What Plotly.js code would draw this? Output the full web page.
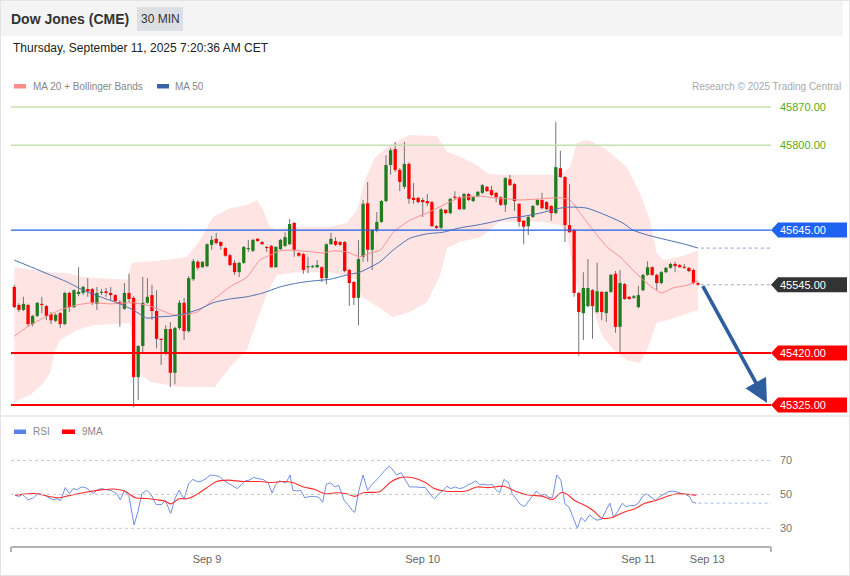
<!DOCTYPE html>
<html><head><meta charset="utf-8">
<script src="https://cdn.plot.ly/plotly-3.0.1.min.js"></script>
<style>
html,body{margin:0;padding:0;background:#fff;}
#chart{width:850px;height:576px;position:absolute;left:0;top:0;}
#frame{position:absolute;left:0;top:0;width:848px;height:574px;border:1px solid #e4e4e4;pointer-events:none;}
</style>
</head><body><div id="chart"></div><div id="frame"></div>
<script>
// ---------- DATA ----------
const openP=[45541,45508,45499,45508,45473,45488,45510,45506,45491,45479,
45493,45473,45530,45504,45528,45530,45537,45537,45510,45530,
45533,45530,45526,45513,45501,45530,45521,45376,45433,45512,
45526,45497,45446,45420,45464,45384,45466,45512,45460,45555,
45587,45577,45579,45618,45629,45623,45612,45599,45585,45568,
45585,45610,45607,45629,45623,45614,45616,45577,45610,45616,
45619,45658,45603,45601,45577,45577,45577,45577,45557,45619,
45625,45623,45623,45572,45550,45521,45596,45694,45609,45645,
45660,45698,45764,45793,45755,45724,45766,45704,45704,45700,
45698,45696,45652,45649,45682,45676,45705,45705,45683,45711,
45698,45707,45713,45724,45718,45713,45705,45691,45738,45729,
45693,45662,45652,45669,45691,45700,45696,45689,45676,45758,
45742,45654,45645,45530,45493,45506,45535,45495,45532,45493,
45532,45565,45468,45546,45523,45521,45504,45535,45563,45577,
45563,45548,45568,45576,45583,45581,45577,45576,45572,45548];
const highP=[45545,45511,45523,45510,45490,45513,45523,45508,45495,45493,
45495,45532,45532,45537,45577,45543,45557,45539,45541,45537,
45539,45541,45528,45517,45548,45565,45524,45435,45559,45557,
45545,45535,45447,45471,45477,45468,45517,45521,45561,45592,
45590,45588,45621,45634,45640,45625,45614,45601,45590,45587,
45616,45627,45629,45630,45625,45616,45618,45616,45629,45641,
45665,45660,45605,45603,45596,45581,45590,45579,45621,45640,
45632,45625,45625,45574,45552,45627,45700,45733,45647,45678,
45700,45782,45795,45806,45758,45806,45769,45731,45705,45704,
45711,45698,45654,45685,45683,45704,45716,45707,45713,45713,
45707,45716,45729,45726,45726,45715,45707,45742,45746,45731,
45694,45663,45671,45691,45702,45713,45698,45691,45843,45790,
45744,45729,45647,45532,45568,45592,45537,45585,45533,45533,
45565,45570,45572,45548,45524,45526,45543,45565,45588,45579,
45565,45570,45577,45585,45587,45583,45583,45577,45574,45550];
const lowP=[45502,45495,45497,45468,45469,45486,45493,45480,45473,45477,
45466,45471,45495,45502,45524,45526,45523,45508,45499,45526,
45523,45517,45513,45468,45499,45513,45321,45334,45422,45510,
45480,45429,45398,45416,45358,45363,45462,45444,45457,45552,
45572,45576,45577,45609,45619,45609,45596,45579,45563,45559,
45583,45605,45605,45623,45618,45605,45576,45576,45609,45614,
45618,45596,45596,45565,45566,45576,45576,45550,45546,45618,
45616,45616,45568,45506,45508,45471,45587,45587,45572,45641,
45658,45696,45746,45751,45716,45720,45693,45693,45694,45669,
45689,45651,45647,45647,45674,45674,45700,45682,45682,45698,
45696,45705,45711,45715,45707,45696,45689,45678,45726,45680,
45651,45619,45636,45667,45689,45683,45682,45662,45674,45740,
45623,45640,45523,45415,45444,45504,45446,45493,45480,45477,
45530,45457,45422,45517,45517,45519,45502,45533,45561,45561,
45535,45546,45566,45574,45568,45576,45574,45568,45546,45543];
const closeP=[45504,45499,45510,45473,45488,45512,45508,45488,45480,45490,
45473,45530,45504,45535,45532,45541,45533,45512,45530,45532,
45530,45526,45515,45510,45530,45519,45376,45433,45512,45523,
45497,45446,45444,45464,45384,45466,45512,45460,45557,45588,
45576,45587,45619,45627,45621,45616,45598,45581,45568,45585,
45614,45612,45627,45625,45619,45612,45577,45614,45627,45632,
45656,45609,45598,45572,45579,45579,45581,45557,45619,45629,
45618,45618,45570,45548,45521,45592,45693,45609,45645,45660,
45698,45764,45791,45755,45733,45766,45702,45700,45696,45696,
45694,45652,45649,45683,45676,45702,45704,45683,45711,45700,
45705,45715,45727,45716,45709,45705,45691,45740,45727,45698,
45660,45651,45669,45689,45700,45685,45683,45676,45760,45742,
45654,45641,45530,45495,45539,45539,45506,45533,45495,45532,
45563,45468,45548,45519,45519,45524,45526,45563,45577,45563,
45548,45568,45576,45583,45579,45577,45576,45570,45548,45545];

const bbUpX=[0,4.1,7.8,11.5,15.0,18.7,24.6,25.6,29.6,33.3,37.6,40.5,43.3,47.0,50.7,52.9,54.2,55.7,57.2,60.1,65.1,68.8,72.5,74.7,76.4,78.6,81.9,86.2,92.1,94.3,97.1,100.8,103.0,105.8,113.0,118.9,121.1,122.6,124.8,126.1,129.2,133.5,136.3,138.5,140.0,141.4,145.1,149.0];
const bbUp=[45577,45572,45568,45566,45559,45557,45554,45585,45588,45590,45596,45627,45669,45685,45691,45700,45682,45651,45647,45651,45651,45651,45658,45682,45736,45777,45801,45819,45817,45788,45779,45764,45749,45746,45746,45746,45760,45804,45810,45806,45791,45760,45713,45663,45603,45590,45596,45608];
const bbLoX=[0,1.7,3.4,6.3,7.8,8.7,10.0,13.7,17.1,25.2,26.3,29.6,36.1,43.7,47.0,50.7,52.9,55.1,57.2,61.6,68.8,74.7,75.8,79.7,82.5,86.2,89.9,92.8,94.3,97.1,101.5,105.8,114.6,118.9,120.4,121.7,123.3,126.1,128.3,131.3,133.5,136.3,137.9,140.0,142.2,149.0];
const bbLo=[45329,45338,45343,45365,45384,45420,45444,45462,45471,45475,45389,45367,45358,45358,45394,45426,45480,45530,45563,45568,45568,45554,45523,45502,45486,45495,45513,45563,45612,45623,45632,45660,45660,45654,45640,45572,45523,45499,45449,45420,45407,45402,45426,45475,45480,45499];

const ma20X=[0,3.4,6.3,10.0,13.7,17.1,20.9,25.9,29.6,32.4,34.6,36.8,39.8,43.3,47.0,50.7,53.5,55.7,57.9,60.1,65.1,67.3,69.4,72.5,75.3,77.5,79.7,82.5,86.2,89.9,92.1,94.3,97.1,101.5,104.3,107.4,110.2,114.6,118.9,121.1,123.3,126.1,129.2,132.0,134.8,137.0,139.2,141.1,143.5,146.6,149.0];
const ma20=[45451,45471,45484,45499,45508,45512,45510,45512,45506,45497,45490,45490,45495,45517,45541,45559,45590,45599,45607,45608,45605,45603,45607,45605,45596,45603,45608,45640,45663,45676,45685,45694,45704,45707,45704,45702,45700,45702,45704,45700,45676,45645,45614,45596,45572,45554,45539,45530,45539,45544,45552];

const ma50X=[0,4.1,7.8,11.5,15.0,18.7,22.4,25.9,28.9,31.1,34.6,37.6,40.5,43.3,47.0,50.7,54.2,57.9,61.6,65.1,68.8,72.5,75.3,79.7,82.5,86.2,89.9,93.4,97.1,100.8,104.3,108.0,110.2,114.6,118.9,121.1,124.8,129.8,132.6,134.8,137.9,142.2,146.6,149.0];
const ma50=[45590,45576,45563,45550,45535,45523,45512,45499,45484,45486,45488,45493,45501,45512,45519,45523,45530,45541,45548,45552,45555,45563,45568,45587,45608,45630,45638,45641,45649,45654,45660,45667,45669,45676,45685,45687,45685,45669,45658,45645,45636,45627,45618,45612];

const rsiX=[0.2,1.0,1.8,3.0,4.2,5.1,6.3,7.5,8.5,9.3,10.1,11.1,12.0,12.8,13.7,14.6,15.5,16.4,17.2,18.1,19.1,19.9,21.1,22.3,23.1,24.0,25.0,26.1,27.0,27.8,28.8,29.7,30.9,32.1,32.9,34.1,35.0,35.9,37.0,38.0,38.9,40.0,40.8,41.8,42.7,43.9,44.7,45.5,46.5,47.7,48.6,49.4,50.3,51.2,52.2,53.0,54.2,55.3,56.2,56.9,57.7,58.5,59.2,60.1,60.7,61.6,62.4,63.3,64.4,65.4,66.3,67.2,68.0,68.9,69.9,70.7,71.9,72.7,73.7,74.2,75.1,76.0,77.0,77.8,78.6,79.6,80.5,81.7,82.5,83.3,84.3,85.2,86.1,87.2,88.4,89.6,90.8,91.6,92.5,93.5,94.3,95.1,96.1,97.0,97.9,98.7,99.6,100.6,101.4,102.2,103.2,104.1,104.9,105.8,106.7,107.7,108.5,109.3,110.3,111.2,112.0,112.9,113.8,114.7,115.6,116.4,117.3,118.2,119.1,120.0,120.9,121.8,122.7,123.5,124.4,125.4,126.2,127.0,128.0,128.9,129.8,130.6,131.5,132.5,133.3,134.1,135.1,136.0,136.8,137.7,138.6,139.8,140.7,141.6,142.4,143.3,144.5,145.5,146.3,147.1,147.8,148.6];
const rsiV=[49.4,48.8,50,46.8,48,50.4,50,48,46.8,47.4,46.4,54,50.4,53.4,52.8,54.4,54,52.4,50.4,52.8,53.4,52.8,52.4,50.4,46.8,52.4,48.8,32,40.4,50.4,52.4,50.4,44,44,46.4,38.8,47.4,52.4,47.4,56.4,58.8,57.4,57.8,59.4,61.4,61,60.4,58.4,56.8,54.8,53.4,55.4,58,58.4,60,59.4,58.8,56.8,50.8,55.4,58,57.4,56.8,61.4,52.4,52,52.4,48,48.8,48.8,48.4,45.4,56,56.8,54.4,55.4,46.4,44,40.4,39.4,52.4,61.4,52.4,55.4,57.4,60.4,63.4,66.8,64.4,61.4,62.8,58.4,54.4,54.4,54,54,49.4,47.4,50.4,52.4,54.8,53.4,54.4,53.4,54,55.4,56.4,58,55.6,56,55.4,56,52.8,51,58.8,56.8,50.4,47.2,44,42.8,45.4,49,52,49.4,50,48.4,48,61.4,58.4,44.4,42.4,36.4,30,36.4,34,38,36,34.8,35.4,40.4,44.8,36.4,40,44.8,42.8,43.4,43.4,44.8,48.4,50.4,48.8,46.4,48.8,50.4,51.4,52,51.4,50.4,50,48.8,45.4,44.8];
const rsiMaX=[0.2,2.8,5.1,7.5,9.9,12.2,15.8,19.3,21.7,24.0,26.4,28.8,31.1,32.9,34.1,35.9,37.6,39.4,41.8,44.1,46.5,50.0,53.6,55.9,58.3,60.7,63.0,65.4,67.7,70.1,72.5,74.2,76.0,79.6,81.9,83.7,86.6,89.6,91.4,93.7,98.5,100.8,103.2,106.7,109.1,112.0,115.0,117.3,119.1,120.3,122.1,124.4,126.2,128.0,130.3,132.7,135.1,137.4,139.8,142.2,144.5,146.9,148.6];
const rsiMa=[49.4,50.4,50.4,48.8,48,49.4,51.4,52.8,53.2,52,48,47.6,46.8,46,44.4,47.4,47.4,49.4,53.6,57.6,58.4,57.6,57.6,57,57.6,57,54.4,53,50.4,51,50.4,48.8,51,51.6,57,59.6,60,57,53.6,52,52,54.4,54,54.8,52,49.6,49,47,51,50.4,46.4,43.4,40.4,36,36.4,39.4,41.4,44.8,46.4,48.8,50.4,50,49.4];

const tickIdx=[42,89,136,151];
const tickText=['Sep 9','Sep 10','Sep 11','Sep 13'];
const rsiLevels=[70,50,30];
const levels=[45870,45800,45645,45545,45420,45325];
const target=45325;

// ---------- GEOMETRY (layout only) ----------
const W=850, PH=547;
const XR=[-3.116,182.11];
const pxPerBar=W/(XR[1]-XR[0]);
const ix=p=>XR[0]+p/pxPerBar;          // pixel -> bar index
const px=p=>p/W, py=p=>(PH-p)/PH;        // pixel -> paper
const priceRange=[45308.6,45901.1];
const pricePerPx=(priceRange[1]-priceRange[0])/324;
const lineL=ix(11), lineR=ix(771);

const idx=closeP.map((_,i)=>i);
const GREEN='#1f7d1f', RED='#ff0000';

const traces=[
 {type:'bar',x:idx,base:lowP,y:highP.map((h,i)=>h-lowP[i]),width:0.22,
  marker:{color:'#757575',line:{width:0}},xaxis:'x',yaxis:'y',hoverinfo:'skip'},
 {type:'bar',x:idx,base:openP.map((o,i)=>Math.min(o,closeP[i])),
  y:openP.map((o,i)=>Math.max(Math.abs(closeP[i]-o),2)),width:0.72,
  marker:{color:openP.map((o,i)=>closeP[i]>=o?GREEN:RED),line:{width:0}},xaxis:'x',yaxis:'y',hoverinfo:'skip'},
 {type:'scatter',mode:'lines',x:ma20X,y:ma20,line:{color:'#ff8e8e',width:1,shape:'spline',smoothing:0.6},xaxis:'x',yaxis:'y'},
 {type:'scatter',mode:'lines',x:ma50X,y:ma50,line:{color:'#4a70b0',width:1,shape:'spline',smoothing:0.6},xaxis:'x',yaxis:'y'},
 {type:'scatter',mode:'lines',x:[ma50X[ma50X.length-1]+0.6,lineR],y:[ma50[ma50.length-1],ma50[ma50.length-1]],line:{color:'#9fb4d8',width:1.2,dash:'dot'},xaxis:'x',yaxis:'y'},
 {type:'scatter',mode:'lines',x:[idx.length-1+0.6,lineR],y:[closeP[closeP.length-1],closeP[closeP.length-1]],line:{color:'#a8a8a8',width:1.2,dash:'dot'},xaxis:'x',yaxis:'y'},
 {type:'scatter',mode:'lines',x:rsiX,y:rsiV,line:{color:'#6f8fe6',width:1},xaxis:'x',yaxis:'y2'},
 {type:'scatter',mode:'lines',x:rsiMaX,y:rsiMa,line:{color:'#ff2d2d',width:1.1,shape:'spline',smoothing:0.8},xaxis:'x',yaxis:'y2'},
 {type:'scatter',mode:'lines',x:[rsiX[rsiX.length-1]+0.5,lineR],y:[rsiV[rsiV.length-1],rsiV[rsiV.length-1]],line:{color:'#b3c6f2',width:1.2,dash:'dot'},xaxis:'x',yaxis:'y2'}
];

// band polygon
let band='M'+bbUpX[0]+','+bbUp[0];
for(let i=1;i<bbUpX.length;i++) band+=' L'+bbUpX[i]+','+bbUp[i];
for(let i=bbLoX.length-1;i>=0;i--) band+=' L'+bbLoX[i]+','+bbLo[i];
band+=' Z';

const shapes=[
 {type:'rect',xref:'paper',yref:'paper',x0:px(1),x1:px(843),y0:py(36),y1:py(1),fillcolor:'#f4f4f4',line:{width:0},layer:'below'},
 {type:'rect',xref:'paper',yref:'paper',x0:px(137),x1:px(183),y0:py(31),y1:py(7),fillcolor:'#dcdfe4',line:{width:0},layer:'below'},
 {type:'rect',xref:'paper',yref:'paper',x0:px(14),x1:px(26),y0:py(88.5),y1:py(84),fillcolor:'#ff8a8a',line:{width:0}},
 {type:'rect',xref:'paper',yref:'paper',x0:px(157),x1:px(169),y0:py(88.5),y1:py(84),fillcolor:'#3a62a6',line:{width:0}},
 {type:'rect',xref:'paper',yref:'paper',x0:px(14),x1:px(26),y0:py(434),y1:py(429.5),fillcolor:'#5b80e6',line:{width:0}},
 {type:'rect',xref:'paper',yref:'paper',x0:px(62),x1:px(75),y0:py(434),y1:py(429.5),fillcolor:'#ff0000',line:{width:0}},
 {type:'line',xref:'paper',yref:'paper',x0:0,x1:1,y0:py(416),y1:py(416),line:{color:'#e8ecf0',width:2}},
 {type:'path',xref:'x',yref:'y',path:band,fillcolor:'#ffe4e4',line:{width:0},layer:'below'},
 {type:'line',xref:'x',yref:'paper',x0:lineL,x1:lineR,y0:0,y1:0,line:{color:'#b4b4b4',width:2}},
 {type:'line',xref:'x',yref:'paper',x0:lineL,x1:lineL,y0:0,y1:py(552),line:{color:'#b4b4b4',width:2}},
 {type:'line',xref:'x',yref:'paper',x0:lineR,x1:lineR,y0:0,y1:py(552),line:{color:'#b4b4b4',width:2}}
];
rsiLevels.forEach(v=>shapes.push({type:'line',xref:'x',yref:'y2',x0:lineL,x1:lineR,y0:v,y1:v,line:{color:'#c8c8c8',width:1,dash:'dot'}}));

const levelStyle={45870:{c:'#c6e0b0',w:1.5,tag:null,t:'#5aab17'},45800:{c:'#c6e0b0',w:1.5,tag:null,t:'#5aab17'},
 45645:{c:'#1f5fe8',w:1.2,tag:'#1e63f2'},45545:{c:null,tag:'#333333'},45420:{c:'#ff0000',w:2,tag:'#ff0000'},45325:{c:'#ff0000',w:2,tag:'#ff0000'}};
const annotations=[];
const hh=7.5*pricePerPx;
levels.forEach(L=>{
 const s=levelStyle[L];
 if(s.c) shapes.push({type:'line',xref:'x',yref:'y',x0:lineL,x1:lineR,y0:L,y1:L,line:{color:s.c,width:s.w}});
 if(s.tag){
  shapes.push({type:'path',xref:'x',yref:'y',fillcolor:s.tag,line:{width:0},
   path:`M${lineR},${L} L${ix(778)},${L+hh} L${ix(847)},${L+hh} L${ix(847)},${L-hh} L${ix(778)},${L-hh} Z`});
 }
 annotations.push({xref:'x',yref:'y',x:ix(777.5),y:L,xanchor:'left',yanchor:'middle',showarrow:false,
  text:L.toFixed(2),font:{size:11,color:s.tag?'#ffffff':s.t}});
});
rsiLevels.forEach(v=>annotations.push({xref:'x',yref:'y2',x:ix(777.5),y:v,xanchor:'left',yanchor:'middle',showarrow:false,text:String(v),font:{size:11,color:'#777'}}));

// arrow toward target
annotations.push({xref:'x',yref:'y',axref:'x',ayref:'y',x:ix(767),y:target+2*pricePerPx,ax:ix(702),ay:closeP[closeP.length-1],
 text:'',showarrow:true,arrowhead:2,arrowsize:1.3,arrowwidth:3.6,arrowcolor:'#2f5e9e',standoff:0,startstandoff:0});

const txt=(t,x,y,o)=>Object.assign({xref:'paper',yref:'paper',x:px(x),y:py(y),text:t,showarrow:false,xanchor:'left',yanchor:'middle',font:{size:11,color:'#888'}},o||{});
annotations.push(
 txt('<b>Dow Jones (CME)</b>',9,19,{font:{size:14,color:'#333'}}),
 txt('30 MIN',160,19,{xanchor:'center',font:{size:12,color:'#333'}}),
 txt('Thursday, September 11, 2025 7:20:36 AM CET',11,48,{font:{size:12,color:'#222'}}),
 txt('MA 20 + Bollinger Bands',31,86.5,{font:{size:10,color:'#888'}}),
 txt('MA 50',173,86.5,{font:{size:10,color:'#888'}}),
 txt('Research © 2025 Trading Central',843,86.5,{xanchor:'right',font:{size:10,color:'#aaa'}}),
 txt('RSI',31,431.5,{font:{size:10,color:'#888'}}),
 txt('9MA',80,431.5,{font:{size:10,color:'#888'}})
);

const layout={
 width:850,height:576,margin:{l:0,r:0,t:0,b:29},
 paper_bgcolor:'#ffffff',plot_bgcolor:'rgba(0,0,0,0)',
 font:{family:'"Liberation Sans", Arial, sans-serif',color:'#666'},
 showlegend:false,barmode:'overlay',dragmode:false,hovermode:false,
 xaxis:{range:XR,anchor:'y2',showgrid:false,zeroline:false,showline:false,ticks:'',ticklabelstandoff:4,
  tickmode:'array',tickvals:tickIdx,ticktext:tickText,tickfont:{size:11,color:'#666'},fixedrange:true},
 yaxis:{domain:[py(414),py(90)],range:priceRange,showgrid:false,zeroline:false,showticklabels:false,ticks:'',fixedrange:true},
 yaxis2:{domain:[0,py(445)],range:[19.01,79.1],showgrid:false,zeroline:false,showticklabels:false,ticks:'',fixedrange:true},
 shapes:shapes,annotations:annotations
};
Plotly.newPlot('chart',traces,layout,{staticPlot:true,displayModeBar:false});
</script>
</body></html>
